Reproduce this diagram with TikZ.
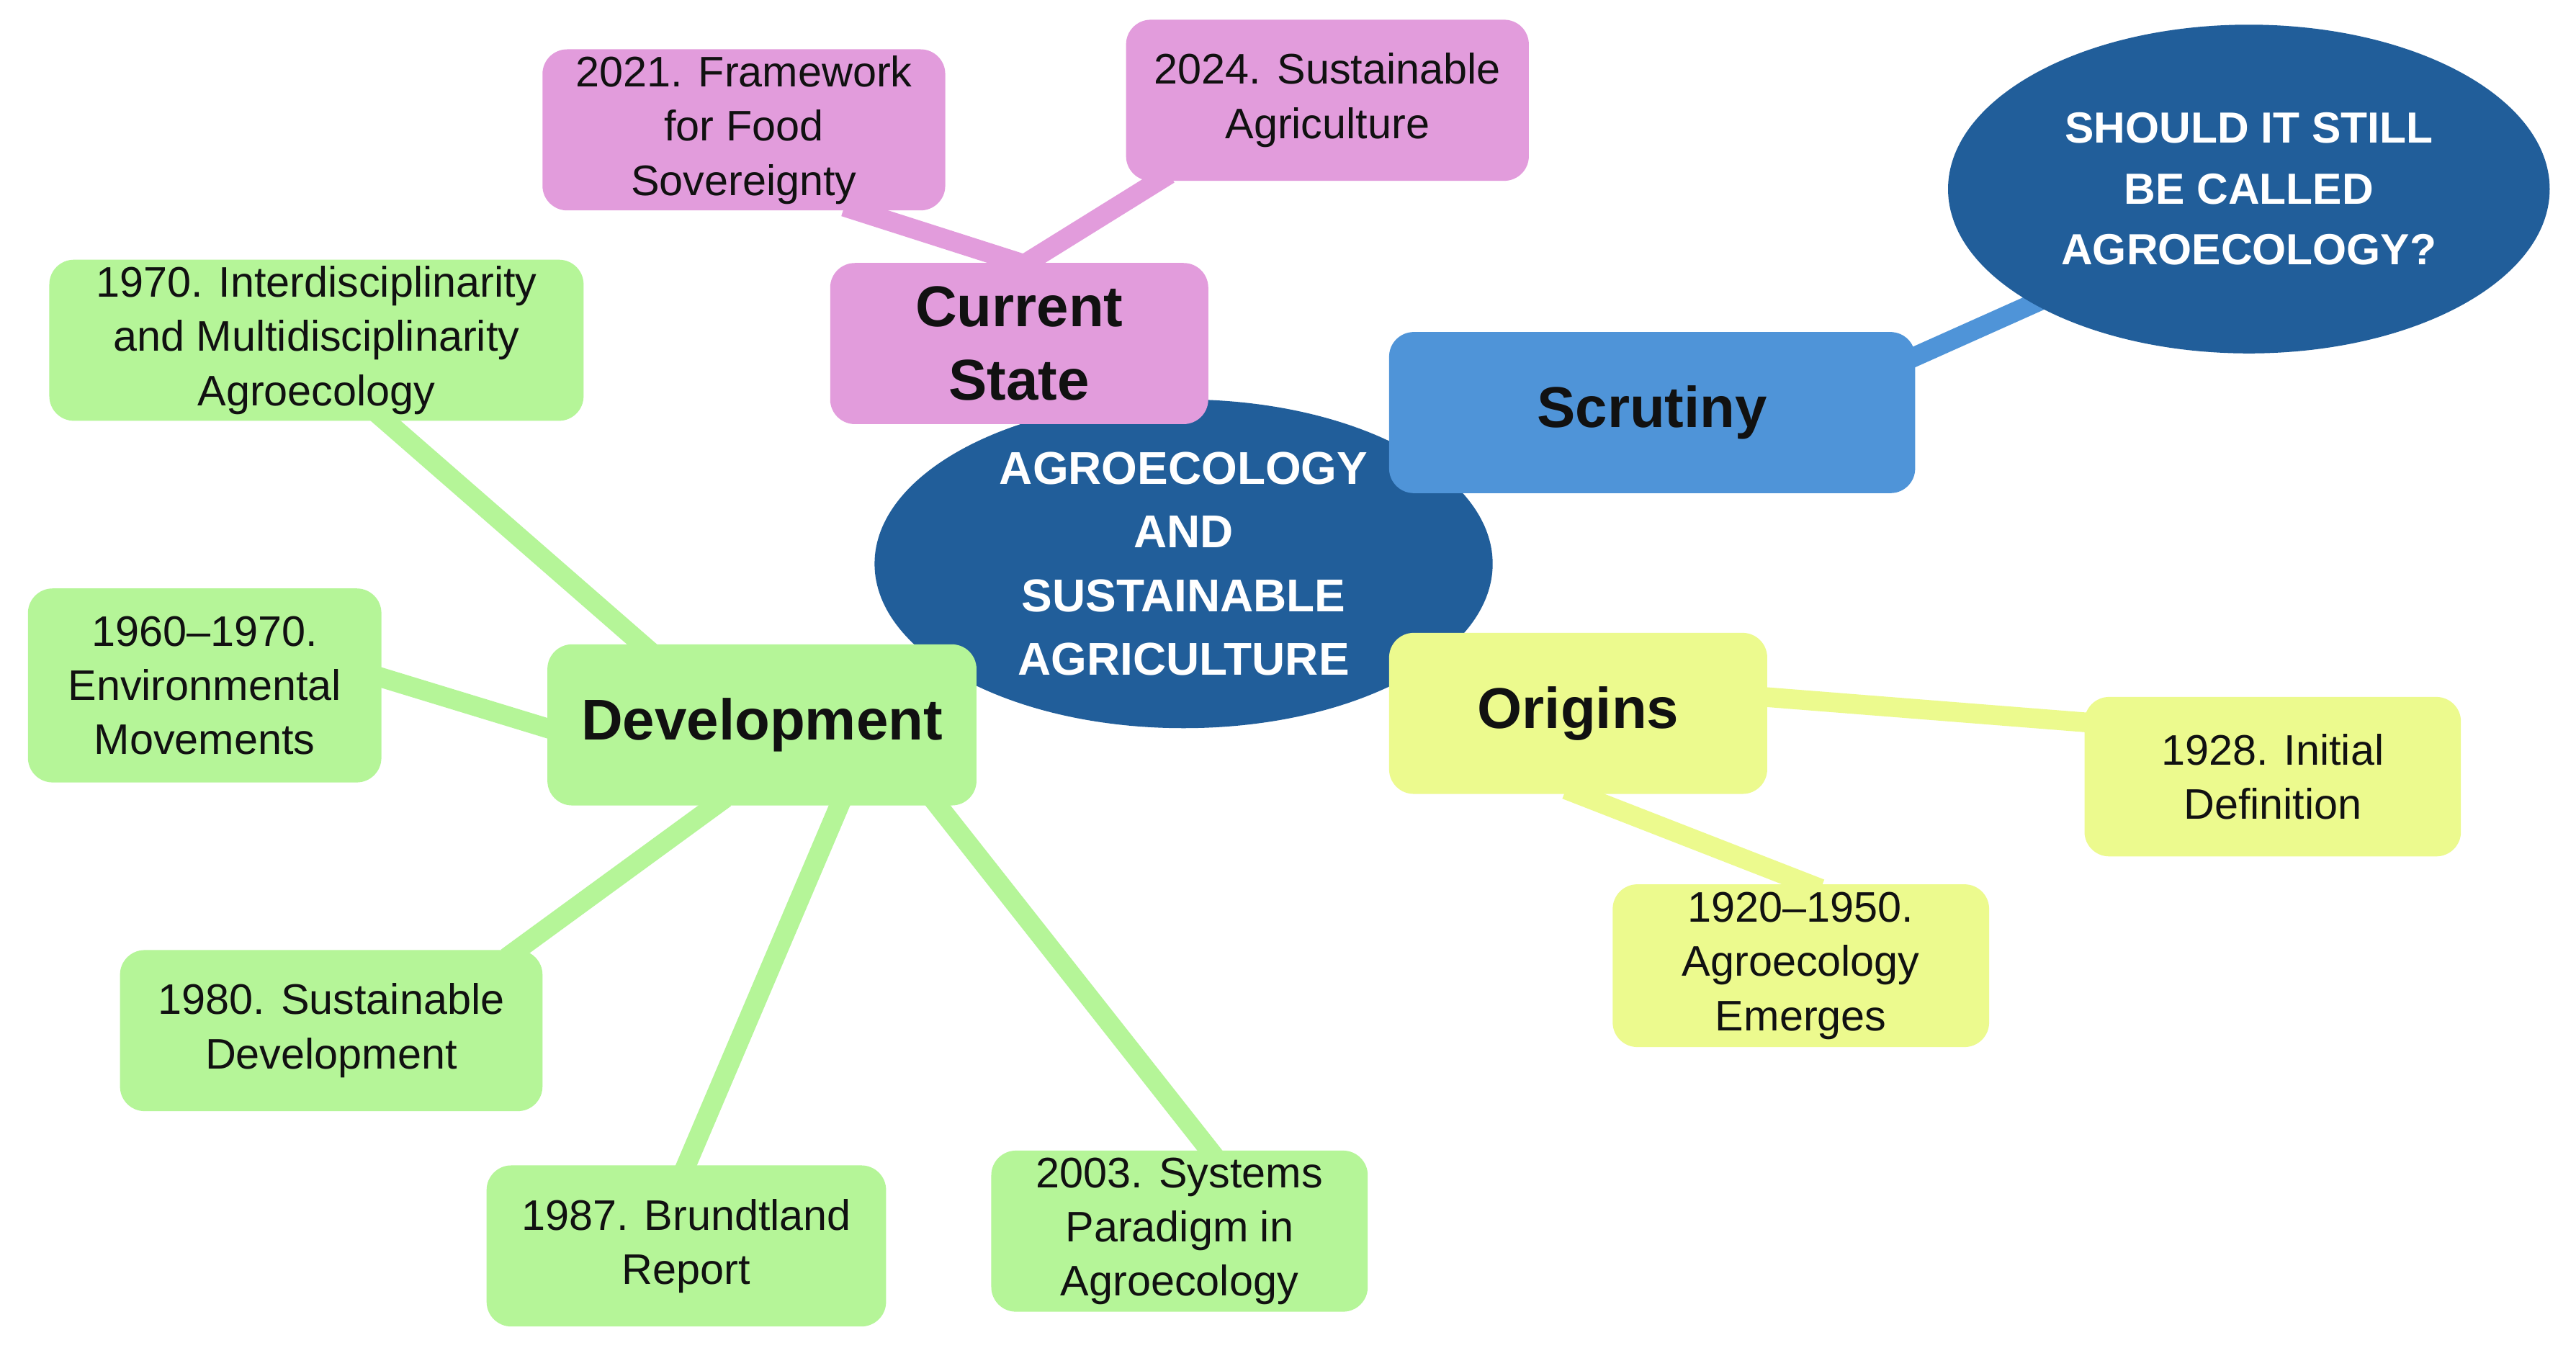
\documentclass[tikz,border=0pt]{standalone}
\usepackage{fontspec}
\setmainfont{Liberation Sans}
\usetikzlibrary{calc,shapes.geometric}
\definecolor{hubblue}{RGB}{33,94,154}
\definecolor{scrblue}{RGB}{79,148,216}
\definecolor{pinkc}{RGB}{226,156,220}
\definecolor{greenc}{RGB}{181,245,152}
\definecolor{yellowc}{RGB}{236,250,142}
\definecolor{txt}{RGB}{17,17,17}
\pgfdeclarelayer{paper}
\pgfdeclarelayer{bg}
\pgfsetlayers{paper,bg,main}
\begin{document}
\begin{tikzpicture}[x=1pt,y=-1pt,
  box/.style={rectangle, rounded corners=15pt, inner sep=0pt, align=center, text=txt},
  leaf/.style={box, font=\fontsize{26}{33}\selectfont},
  head/.style={box, font=\fontsize{35}{45}\selectfont\bfseries},
  hub/.style={ellipse, inner sep=0pt, fill=hubblue, text=white, align=center},
  link/.style={line width=12pt, shorten <=-8pt, shorten >=-8pt}]
\begin{pgfonlayer}{paper}
\fill[white] (0,0) rectangle (1567,823);
\end{pgfonlayer}
\useasboundingbox (0,0) rectangle (1567,823);

% central hub and question
\node[hub, minimum width=376, minimum height=200, font=\fontsize{28}{38.7}\selectfont\bfseries] (hub) at (720,343)
  {AGROECOLOGY\\AND\\SUSTAINABLE\\AGRICULTURE};
\node[hub, minimum width=366, minimum height=200, font=\fontsize{26.5}{37}\selectfont\bfseries] (q) at (1368,115)
  {SHOULD IT STILL\\BE CALLED\\AGROECOLOGY?};

% main branches
\node[head, fill=pinkc, minimum width=230, minimum height=98] (cs) at (620,209) {Current\\State};
\node[head, fill=scrblue, minimum width=320, minimum height=98] (scr) at (1005,251) {Scrutiny};
\node[head, fill=yellowc, minimum width=230, minimum height=98] (or) at (960,434) {Origins};
\node[head, fill=greenc, minimum width=261, minimum height=98] (dev) at (463.5,441) {Development};

% leaves: current state
\node[leaf, fill=pinkc, minimum width=245, minimum height=98] (f2021) at (452.5,79) {2021. Framework\\for Food\\Sovereignty};
\node[leaf, fill=pinkc, minimum width=245, minimum height=98] (f2024) at (807.5,61) {2024. Sustainable\\Agriculture};

% leaves: origins
\node[leaf, fill=yellowc, minimum width=229, minimum height=97] (d1928) at (1382.5,472.5) {1928. Initial\\Definition};
\node[leaf, fill=yellowc, minimum width=229, minimum height=99] (e1920) at (1095.5,587.5) {1920–1950.\\Agroecology\\Emerges};

% leaves: development
\node[leaf, fill=greenc, minimum width=325, minimum height=98] (i1970) at (192.5,207) {1970. Interdisciplinarity\\and Multidisciplinarity\\Agroecology};
\node[leaf, fill=greenc, minimum width=215, minimum height=118] (m1960) at (124.5,417) {1960–1970.\\Environmental\\Movements};
\node[leaf, fill=greenc, minimum width=257, minimum height=98] (s1980) at (201.5,627) {1980. Sustainable\\Development};
\node[leaf, fill=greenc, minimum width=243, minimum height=98] (b1987) at (417.5,758) {1987. Brundtland\\Report};
\node[leaf, fill=greenc, minimum width=229, minimum height=98] (p2003) at (717.5,749) {2003. Systems\\Paradigm in\\Agroecology};

\begin{pgfonlayer}{bg}
\draw[link, pinkc] (cs.north) -- ($(f2021.south west)!0.78!(f2021.south east)$);
\draw[link, pinkc] ($(cs.north west)!0.52!(cs.north east)$) -- ($(f2024.south west)!0.08!(f2024.south east)$);
\draw[link, scrblue] ($(scr.north east)+(0,15)$) -- (q.208);
\draw[link, yellowc] ($(or.north east)!0.4!(or.south east)$) -- ($(d1928.north west)!0.16!(d1928.south west)$);
\draw[link, yellowc] (or.south) -- ($(e1920.north west)!0.52!(e1920.north east)$);
\draw[link, greenc] ($(dev.north west)!0.22!(dev.north east)$) -- ($(i1970.south west)!0.63!(i1970.south east)$);
\draw[link, greenc] ($(dev.north west)!0.52!(dev.south west)$) -- ($(m1960.north east)!0.46!(m1960.south east)$);
\draw[link, greenc] ($(dev.south west)!0.39!(dev.south east)$) -- ($(s1980.north west)!0.94!(s1980.north east)$);
\draw[link, greenc] ($(dev.south west)!0.68!(dev.south east)$) -- (b1987.north);
\draw[link, greenc] ($(dev.south west)!0.91!(dev.south east)$) -- ($(p2003.north west)!0.58!(p2003.north east)$);
\end{pgfonlayer}
\end{tikzpicture}
\end{document}
